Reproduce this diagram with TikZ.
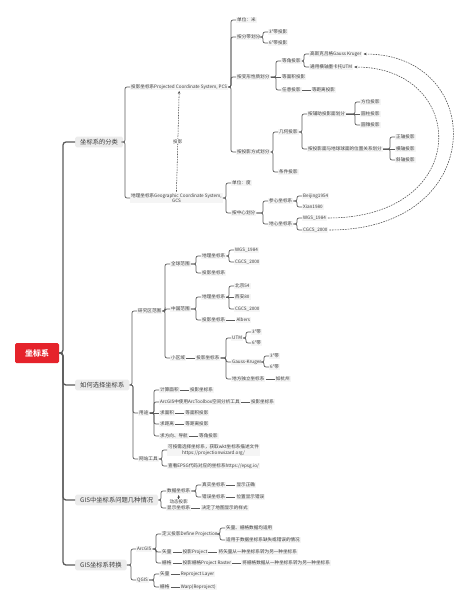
\documentclass[tikz,border=0pt]{standalone}
\usepackage{fontspec}
\setmainfont{Noto Sans CJK SC}
\usetikzlibrary{arrows.meta,positioning}
\definecolor{rootred}{HTML}{E5232B}
\definecolor{inkgray}{HTML}{3C3C3C}
\definecolor{linegray}{HTML}{5A5A5A}
\definecolor{boxgray}{HTML}{ECECEC}
\definecolor{tagfill}{HTML}{F5F5F5}
\tikzset{
  >={Stealth[length=3pt,width=2.6pt]},
  % knoten
  root/.style={fill=rootred,text=white,rounded corners=1.5pt,minimum width=44pt,
               minimum height=20pt,inner sep=0pt,font=\fontsize{8}{9}\selectfont\bfseries},
  topic/.style={anchor=west,fill=boxgray,text=inkgray,rounded corners=1.5pt,
                inner xsep=5pt,inner ysep=2.4pt,font=\fontsize{6.3}{7.5}\selectfont},
  tagb/.style={anchor=west,fill=tagfill,text=inkgray,inner xsep=1pt,inner ysep=0.7pt,
               font=\fontsize{4.6}{5.4}\selectfont},
  tag/.style={tagb,text height=3.5pt,text depth=1pt},
  nxt/.style={tag,right=9pt of #1},
  % linien
  spine/.style={draw=linegray,line width=1.3pt,rounded corners=3pt},
  br/.style={draw=linegray,line width=0.7pt,rounded corners=2pt},
  lnk/.style={->,draw=black!70,line width=0.55pt,dash pattern=on 1.6pt off 1pt,
              shorten >=0.8pt,shorten <=0.8pt},
  lbl/.style={fill=white,text=inkgray,inner sep=0.4pt,font=\fontsize{4.6}{5.4}\selectfont},
}

\begin{document}
\begin{tikzpicture}[x=1pt,y=-1pt]
  \useasboundingbox (0,0) rectangle (474,606);
  % wurzel und hauptzweige
  \node[root] (root) at (37,353) {坐标系};
  \node[topic] (cls) at (75,142) {坐标系的分类};
  \node[topic] (how) at (75,385) {如何选择坐标系};
  \node[topic] (gis) at (75,500) {GIS中坐标系问题几种情况};
  \node[topic] (cvt) at (75,565) {GIS坐标系转换};
  % klassifikation
  \node[tag] (pcs) at (130,87) {投影坐标系Projected Coordinate System, PCS};
  \node[tagb,align=center] (gcs) at (130,198) {地理坐标系Geographic Coordinate System,\\GCS};
  \node[tag] (unitm) at (236,20) {单位：米};
  \node[tag] (band) at (236,37) {按分带划分};
  \node[tag] (b3) at (268,32) {3°带投影};
  \node[tag] (b6) at (268,43) {6°带投影};
  \node[tag] (deform) at (236,77) {按变形性质划分};
  \node[tag] (conf) at (281,61) {等角投影};
  \node[tag] (gk) at (309,54) {高斯克吕格Gauss Kruger};
  \node[tag] (utm) at (309,67) {通用横轴墨卡托UTM};
  \node[tag] (eqa) at (281,77) {等面积投影};
  \node[tag] (arb) at (281,90) {任意投影};
  \node[nxt=arb] (eqd) {等距离投影};
  \node[tag] (way) at (236,152) {按投影方式划分};
  \node[tag] (geo) at (278,132) {几何投影};
  \node[tag] (aux) at (307,114) {按辅助投影面划分};
  \node[tag] (azi) at (360,102) {方位投影};
  \node[tag] (cyl) at (360,114) {圆柱投影};
  \node[tag] (cone) at (360,125) {圆锥投影};
  \node[tag] (pos) at (307,149) {按投影面与地球球面的位置关系划分};
  \node[tag] (nrm) at (395,137) {正轴投影};
  \node[tag] (trv) at (395,149) {横轴投影};
  \node[tag] (obl) at (395,160) {斜轴投影};
  \node[tag] (cond) at (278,172) {条件投影};
  \node[tag] (unitd) at (231,183) {单位：度};
  \node[tag] (ctr) at (231,213) {按中心划分};
  \node[tag] (refc) at (268,201) {参心坐标系};
  \node[tag] (bj) at (302,196) {Beijing1954};
  \node[tag] (xa) at (302,207) {Xian1980};
  \node[tag] (geoc) at (268,224) {地心坐标系};
  \node[tag] (wgs) at (302,218) {WGS\_1984};
  \node[tag] (cgcs) at (302,230) {CGCS\_2000};
  % auswahl
  \node[tag] (area) at (137,311) {研究区范围};
  \node[tag] (glob) at (170,264) {全球范围};
  \node[tag] (ggeo) at (201,256) {地理坐标系};
  \node[tag] (gwgs) at (234,250) {WGS\_1984};
  \node[tag] (gcg) at (234,262) {CGCS\_2000};
  \node[tag] (gprj) at (201,273) {投影坐标系};
  \node[tag] (chn) at (170,309) {中国范围};
  \node[tag] (cgeo) at (201,297) {地理坐标系};
  \node[tag] (bj54) at (234,286) {北京54};
  \node[tag] (xa80) at (234,297) {西安80};
  \node[tag] (ccg) at (234,309) {CGCS\_2000};
  \node[tag] (cprj) at (201,320) {投影坐标系};
  \node[nxt=cprj] (alb) {Albers};
  \node[tag] (small) at (170,358) {小区域};
  \node[nxt=small] (sprj) {投影坐标系};
  \node[tag] (sutm) at (231,338) {UTM};
  \node[tag] (ut3) at (251,332) {3°带};
  \node[tag] (ut6) at (251,343) {6°带};
  \node[tag] (sgk) at (231,362) {Gauss-Kruger};
  \node[tag] (gk3) at (269,356) {3°带};
  \node[tag] (gk6) at (269,367) {6°带};
  \node[tag] (loc) at (231,379) {地方独立坐标系};
  \node[nxt=loc] (locx) {如杭州};
  \node[tag] (use) at (138,413) {用途};
  \node[tag] (ua) at (159,390) {计算面积};
  \node[nxt=ua] (uar) {投影坐标系};
  \node[tag] (ub) at (159,402) {ArcGIS中使用ArcToolbox空间分析工具};
  \node[nxt=ub] (ubr) {投影坐标系};
  \node[tag] (uc) at (159,413) {求面积};
  \node[nxt=uc] (ucr) {等面积投影};
  \node[tag] (ud) at (159,424) {求距离};
  \node[nxt=ud] (udr) {等距离投影};
  \node[tag] (ue) at (159,436) {求方向、导航};
  \node[nxt=ue] (uer) {等角投影};
  \node[tag] (web) at (138,459) {网站工具};
  \node[tagb,align=center] (wa) at (167,450) {可按需选择坐标系，获取wkt坐标系描述文件\\https://projectionwizard.org/};
  \node[tag] (wb) at (167,466) {查看EPSG代码对应的坐标系https://epsg.io/};
  % probleme
  \node[tag] (dcs) at (166,491) {数据坐标系};
  \node[tag] (real) at (201,485) {真实坐标系};
  \node[nxt=real] (realr) {显示正确};
  \node[tag] (wrong) at (201,497) {错误坐标系};
  \node[nxt=wrong] (wrongr) {位置显示错误};
  \node[tag] (dsp) at (166,508) {显示坐标系};
  \node[nxt=dsp] (dspr) {决定了地图显示的样式};
  % umrechnung
  \node[tag] (arc) at (136,549) {ArcGIS};
  \node[tag] (def) at (161,534) {定义投影Define Projection};
  \node[tag] (da) at (225,528) {矢量、栅格数据均适用};
  \node[tag] (db) at (225,540) {适用于数据坐标系缺失或错误的情况};
  \node[tag] (vec) at (161,552) {矢量};
  \node[nxt=vec] (vecp) {投影Project};
  \node[nxt=vecp] (vecd) {将矢量从一种坐标系转为另一种坐标系};
  \node[tag] (ras) at (161,563) {栅格};
  \node[nxt=ras] (rasp) {投影栅格Project Raster};
  \node[nxt=rasp] (rasd) {将栅格数据从一种坐标系转为另一种坐标系};
  \node[tag] (qgis) at (136,580) {QGIS};
  \node[tag] (qv) at (159,574) {矢量};
  \node[nxt=qv] (qvr) {Reproject Layer};
  \node[tag] (qr) at (159,587) {栅格};
  \node[nxt=qr] (qrr) {Warp(Reproject)};
  % verbindungen
  \foreach \c in {cls,how,gis,cvt}
    \draw[spine] (root.east) -| ([xshift=-12pt]\c.west) -- (\c.west);
  % klammern
  \foreach \p/\c in {cls/pcs,cls/gcs,pcs/unitm,pcs/band,pcs/deform,pcs/way,band/b3,band/b6,
      deform/conf,deform/arb,conf/gk,conf/utm,
      way/geo,way/cond,geo/aux,geo/pos,aux/azi,aux/cone,pos/nrm,pos/obl,
      gcs/unitd,gcs/ctr,ctr/refc,ctr/geoc,refc/bj,refc/xa,geoc/wgs,geoc/cgcs,
      how/area,how/use,how/web,area/glob,area/chn,area/small,glob/ggeo,glob/gprj,
      ggeo/gwgs,ggeo/gcg,chn/cgeo,chn/cprj,cgeo/bj54,cgeo/ccg,
      sprj/sutm,sprj/sgk,sprj/loc,sutm/ut3,sutm/ut6,sgk/gk3,sgk/gk6,
      use/ua,use/ub,use/ud,use/ue,web/wa,web/wb,
      gis/dcs,gis/dsp,dcs/real,dcs/wrong,
      cvt/arc,cvt/qgis,arc/def,arc/vec,arc/ras,def/da,def/db,qgis/qv,qgis/qr}
    \draw[br] (\p.east) -| ([xshift=-5pt]\c.west) -- (\c.west);
  % gerade
  \foreach \p/\c in {deform/eqa,arb/eqd,aux/cyl,pos/trv,cgeo/xa80,cprj/alb,small/sprj,loc/locx,
      use/uc,ua/uar,ub/ubr,uc/ucr,ud/udr,ue/uer,real/realr,wrong/wrongr,dsp/dspr,
      vec/vecp,vecp/vecd,ras/rasp,rasp/rasd,qv/qvr,qr/qrr}
    \draw[br] (\p.east) -- (\c.west);
  % gestrichelte bezuege
  \draw[lnk] (gcs.north) -- node[lbl]{投影} (pcs.south);
  \draw[lnk] (dsp.north) -- node[lbl,pos=0.3]{动态投影} (dcs.south);
  \draw[lnk] (cgcs.east) .. controls +(160,0) and +(125,0) .. (gk.east);
  \draw[lnk] (wgs.east) .. controls +(146,0) and +(115,0) .. (utm.east);
\end{tikzpicture}
\end{document}
